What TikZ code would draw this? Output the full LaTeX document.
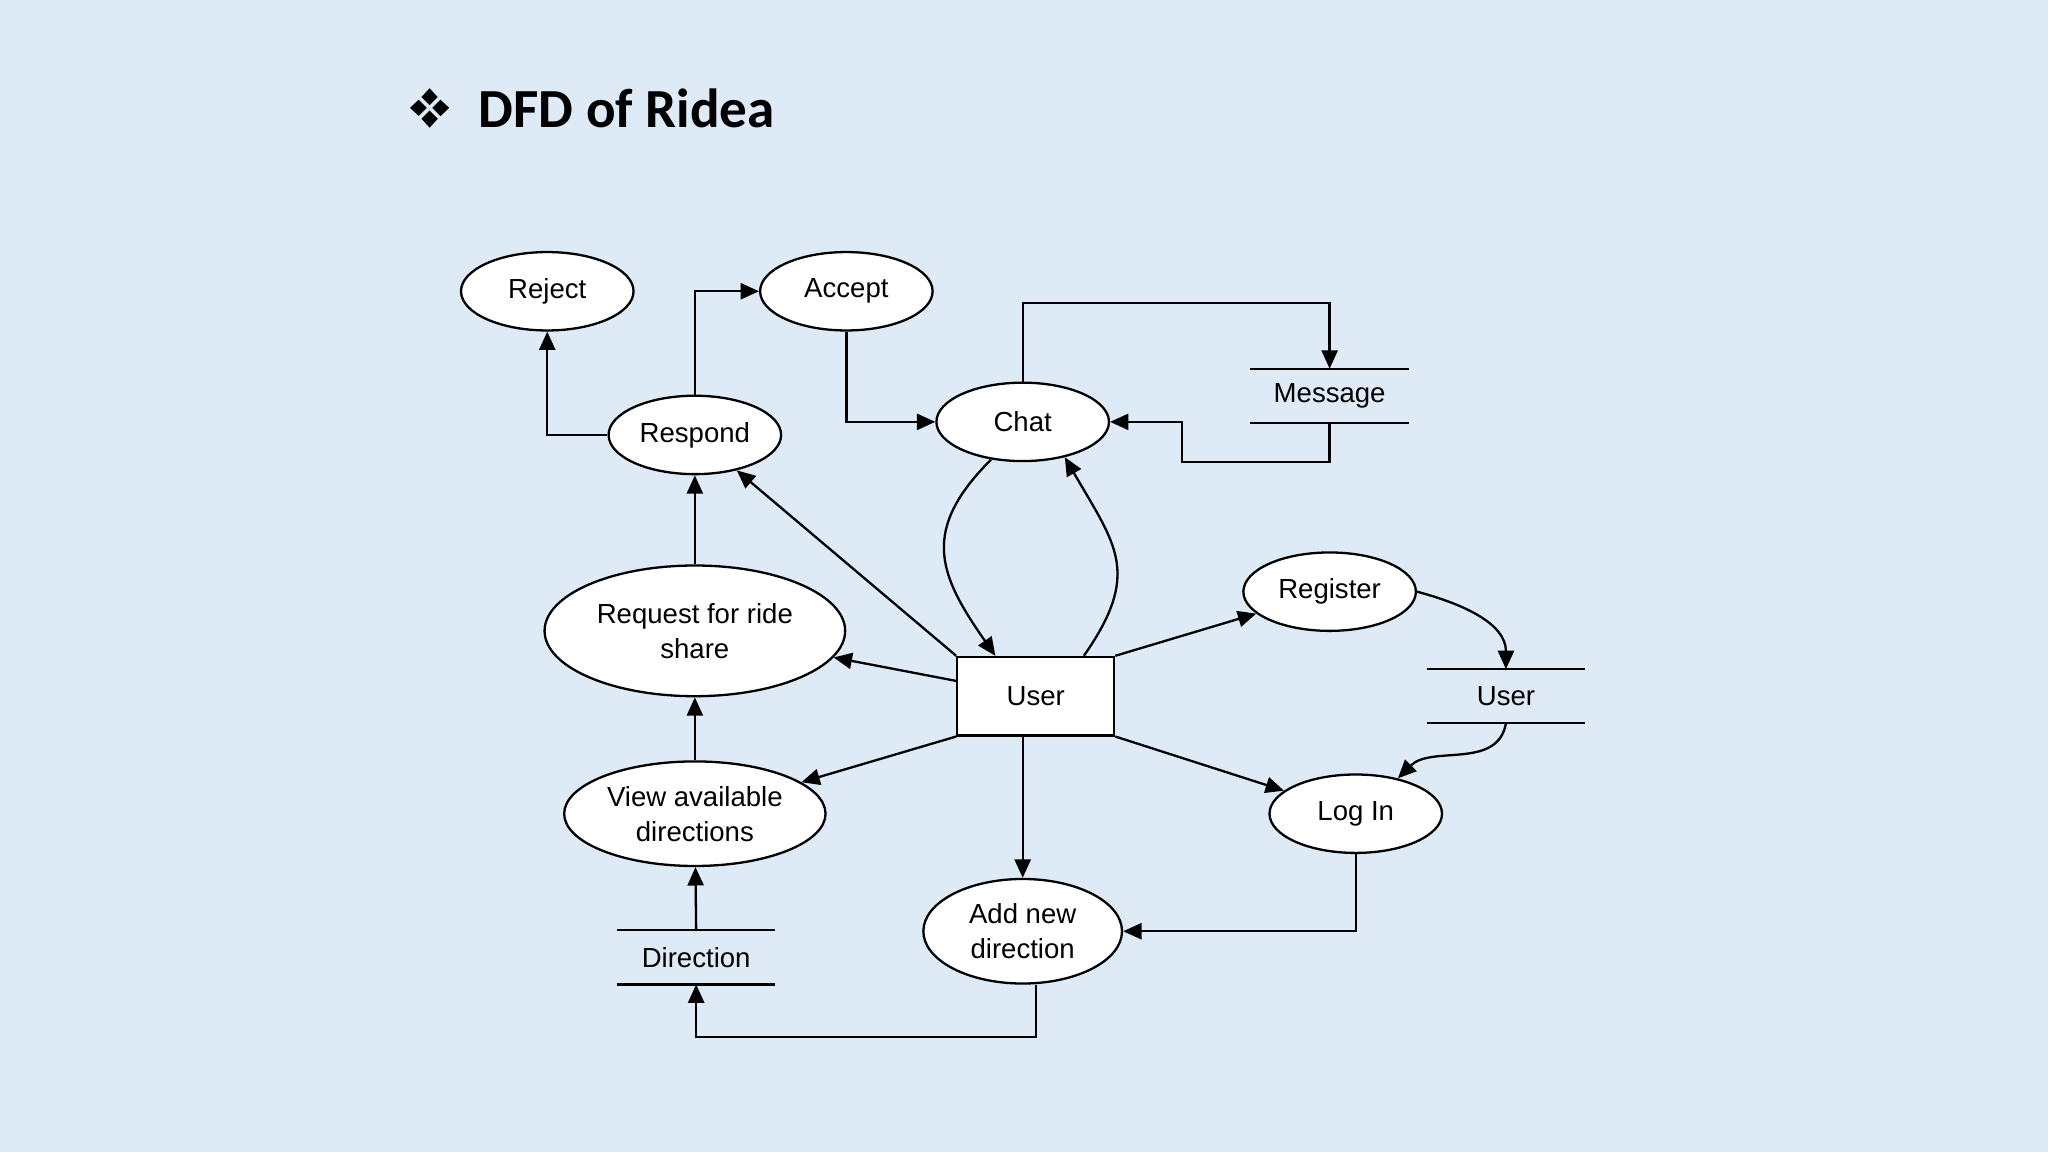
\documentclass[tikz,border=0pt]{standalone}
\usepackage{fontspec}
\usepackage{pifont}
\setmainfont{Liberation Sans}
\newfontfamily\titlefont{Carlito}
\usetikzlibrary{shapes.geometric,arrows.meta}
\definecolor{slide}{RGB}{222,234,246}
\tikzstyle{p} = [ellipse, draw, fill=white, inner sep=0pt, minimum width=1.32cm, minimum height=0.6cm, align=center, font=\fontsize{6}{7.6}\selectfont, line width=0.5pt]
\tikzstyle{e} = [rectangle, draw, fill=white, minimum width=1.2cm, minimum height=0.6cm, font=\fontsize{6}{7.2}\selectfont, line width=0.5pt]
\tikzstyle{s} = [rectangle, inner sep=0pt, minimum width=1.2cm, minimum height=0.4cm, font=\fontsize{6}{7.2}\selectfont]
\tikzstyle{f} = [-{Triangle[width=3.5pt,length=4pt]}, line width=0.5pt]

\begin{document}
\begin{tikzpicture}[x=0.01cm, y=-0.01cm]
	\fill [slide] (0,0) rectangle (1568,882);
	\node [anchor=west, font=\titlefont\fontsize{12}{14}\selectfont\bfseries] (title) at (300,83) {\ding{118}\hspace{0.5em}DFD of Ridea};

	\node [p] (reject) at (419,223) {Reject};
	\node [p] (accept) at (648,223) {Accept};
	\node [p] (chat) at (783,323) {Chat};
	\node [p] (respond) at (532,333) {Respond};
	\node [p, minimum width=2.3cm, minimum height=1cm] (request) at (532,483) {Request for ride\\share};
	\node [p] (register) at (1018,453) {Register};
	\node [p] (login) at (1038,623) {Log In};
	\node [p, minimum width=2cm, minimum height=0.8cm] (view) at (532,623) {View available\\directions};
	\node [p, minimum width=1.52cm, minimum height=0.8cm] (add) at (783,713) {Add new\\direction};
	\node [e] (user) at (793,533) {User};
	\node [s] (message) at (1018,303) {Message};
	\node [s] (users) at (1153,533) {User};
	\node [s] (direction) at (533,733) {Direction};

	% data stores
	\foreach \d in {message, users, direction} {
		\draw [line width=0.5pt] (\d.north west) -- (\d.north east);
		\draw [line width=0.5pt] (\d.south west) -- (\d.south east);
	}

	\draw [f] (respond.north) |- (accept.west);
	\draw [f] (respond.west) -| (reject.south);
	\draw [f] (accept.south) |- (chat.west);
	\draw [f] (chat.north) -- ++(0,-60) -| (message.north);
	\draw [f] (message.south) -- ++(0,30) -- ++(-113,0) |- (chat.east);
	\draw [f] (chat.230) to[out=225,in=125,looseness=1.3] (user.135);
	\draw [f] (user.40) to[out=55,in=-60,looseness=1.3] (chat.-40);
	\draw [f] (user.north west) -- (respond);
	\draw [f] (request) -- (respond);
	\draw [f] (user) -- (request);
	\draw [f] (user.south west) -- (view);
	\draw [f] (view) -- (request);
	\draw [f] (direction.north) -- (view);
	\draw [f] (user.south -| add) -- (add.north);
	\draw [f] (add.south) ++(10,0) -- ++(0,40) -| (direction.south);
	\draw [f] (login.south) |- (add.east);
	\draw [f] (user.north east) -- (register);
	\draw [f] (user.south east) -- (login);
	\draw [f] (register.east) to[out=-15,in=90] (users.north);
	\draw [f] (users.south) to[out=-100,in=45] (login.40);
\end{tikzpicture}
\end{document}
